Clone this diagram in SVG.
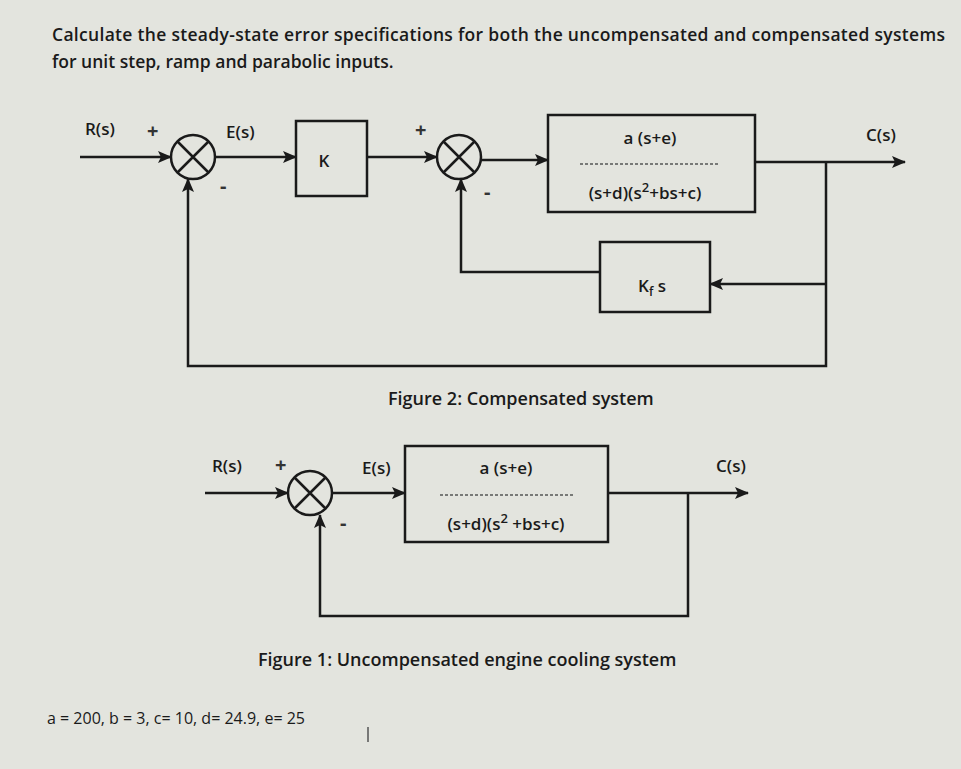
<svg xmlns="http://www.w3.org/2000/svg" width="961" height="769" viewBox="0 0 961 769">
<defs>
<marker id="ah" markerWidth="14" markerHeight="12" refX="13" refY="6" orient="auto" markerUnits="userSpaceOnUse"><path d="M0,0 L14,6 L0,12 L3,6 Z" fill="#1a1a1a"/></marker>
<style>
text{font-family:"Open Sans","DejaVu Sans",sans-serif;fill:#1a1a1a}
.t{font-size:17.5px;font-weight:600}
.c{font-size:18px;font-weight:600}
.l{font-size:17px;font-weight:600}
.s{font-size:20px;font-weight:700;fill:#333}
.b{fill:none;stroke:#1a1a1a;stroke-width:2.5}
.w{fill:none;stroke:#1a1a1a;stroke-width:2.5}
.d{stroke:#555;stroke-width:1.5;stroke-dasharray:3 2}
</style>
</defs>
<rect width="961" height="769" fill="#e3e4de"/>
<text class="t" x="52" y="41" textLength="893">Calculate the steady-state error specifications for both the uncompensated and compensated systems</text>
<text class="t" x="52" y="68">for unit step, ramp and parabolic inputs.</text>

<g id="sum1"><circle class="b" cx="193" cy="157" r="22"/><path class="b" d="M177,141 L209,173 M209,141 L177,173"/><text class="s" x="147" y="138">+</text><text class="s" x="220" y="193">-</text></g>
<g id="K"><rect class="b" x="296" y="121" width="71" height="75"/><text class="l" x="324" y="167" text-anchor="middle" font-size="15">K</text></g>
<g id="sum2"><circle class="b" cx="459" cy="157" r="22"/><path class="b" d="M443,141 L475,173 M475,141 L443,173"/><text class="s" x="415" y="137">+</text><text class="s" x="484" y="199">-</text></g>
<g id="G2"><rect class="b" x="548" y="115" width="207" height="97"/><text class="l" x="650" y="144" text-anchor="middle">a (s+e)</text><line class="d" x1="580" y1="164" x2="720" y2="164"/><text class="l" x="645" y="199" text-anchor="middle">(s+d)(s<tspan dy="-7" font-size="13">2</tspan><tspan dy="7">+bs+c)</tspan></text></g>
<g id="Kf"><rect class="b" x="600" y="242" width="110" height="70"/><text class="l" x="652" y="292" text-anchor="middle">K<tspan font-size="12" dy="4">f</tspan><tspan dy="-4"> s</tspan></text></g>
<text class="l" x="85" y="135">R(s)</text>
<text class="l" x="226" y="138">E(s)</text>
<text class="l" x="866" y="141">C(s)</text>
<text class="c" x="388" y="405">Figure 2: Compensated system</text>

<g id="sum3"><circle class="b" cx="310" cy="493" r="22"/><path class="b" d="M294,477 L326,509 M326,477 L294,509"/><text class="s" x="275" y="472">+</text><text class="s" x="340" y="530">-</text></g>
<g id="G1"><rect class="b" x="405" y="446" width="203" height="96"/><text class="l" x="506" y="474" text-anchor="middle">a (s+e)</text><line class="d" x1="440" y1="495" x2="575" y2="495"/><text class="l" x="506" y="530" text-anchor="middle">(s+d)(s<tspan dy="-7" font-size="13">2</tspan><tspan dy="7"> +bs+c)</tspan></text></g>
<text class="l" x="212" y="472">R(s)</text>
<text class="l" x="362" y="474">E(s)</text>
<text class="l" x="716" y="472">C(s)</text>
<text class="c" x="258" y="666">Figure 1: Uncompensated engine cooling system</text>
<text x="47" y="724" font-size="16">a = 200, b = 3, c= 10, d= 24.9, e= 25</text>
<line x1="368" y1="727" x2="368" y2="742" stroke="#555" stroke-width="1.5"/>

<g id="connectors">
<line class="w" x1="80" y1="157" x2="171" y2="157" marker-end="url(#ah)"/>
<line class="w" x1="215" y1="157" x2="296" y2="157" marker-end="url(#ah)"/>
<line class="w" x1="367" y1="157" x2="437" y2="157" marker-end="url(#ah)"/>
<line class="w" x1="481" y1="160" x2="548" y2="160" marker-end="url(#ah)"/>
<line class="w" x1="755" y1="162" x2="905" y2="162" marker-end="url(#ah)"/>
<polyline class="w" points="826,162 826,366 188,366 188,179" marker-end="url(#ah)"/>
<line class="w" x1="826" y1="284" x2="710" y2="284" marker-end="url(#ah)"/>
<polyline class="w" points="600,272 461,272 461,179" marker-end="url(#ah)"/>
<line class="w" x1="205" y1="493" x2="288" y2="493" marker-end="url(#ah)"/>
<line class="w" x1="332" y1="493" x2="405" y2="493" marker-end="url(#ah)"/>
<line class="w" x1="608" y1="493" x2="748" y2="493" marker-end="url(#ah)"/>
<polyline class="w" points="688,493 688,616 320,616 320,515" marker-end="url(#ah)"/>
</g>
</svg>
